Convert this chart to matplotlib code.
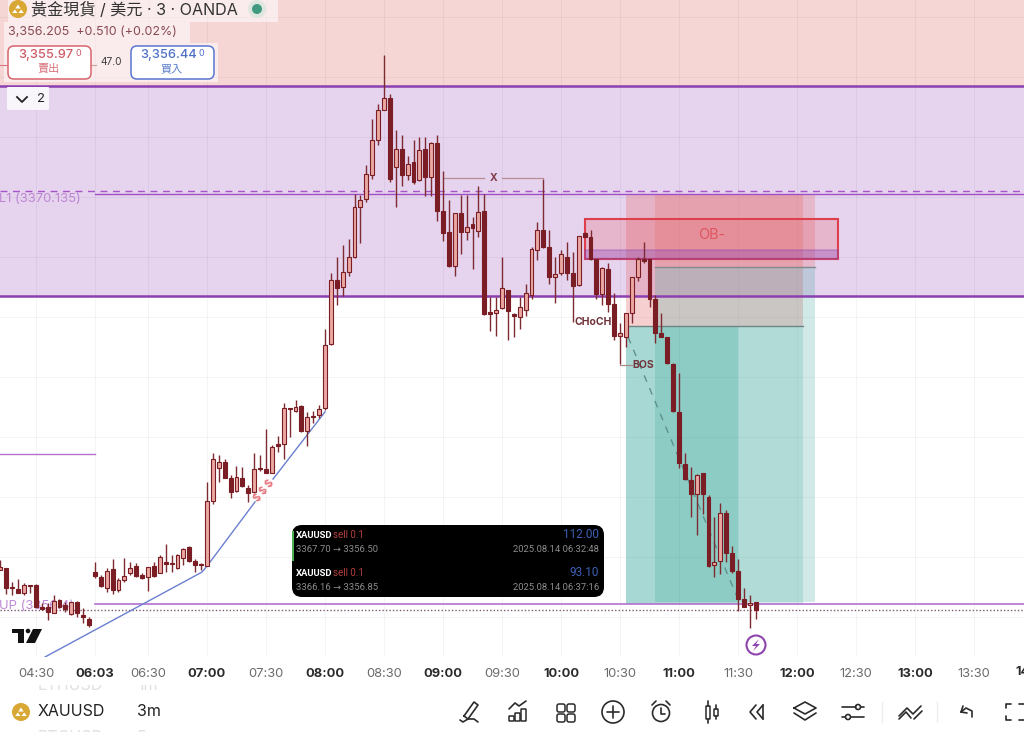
#!/usr/bin/env python3
"""XAUUSD 3m chart screenshot, redrawn with matplotlib."""

import numpy as np
import matplotlib
matplotlib.use("Agg")
import matplotlib.pyplot as plt
from matplotlib.patches import Circle, FancyBboxPatch, Polygon, Rectangle

plt.rcParams["font.family"] = ["Inter", "Noto Sans CJK TC", "DejaVu Sans"]

# candles, oldest first, bar spacing is one 3 minute slot
opens = [
    3357.50, 3357.56, 3356.95, 3356.88, 3356.73, 3357.00, 3357.00, 3356.28, 3356.26, 3356.06,
    3356.50, 3356.34, 3356.04, 3356.43, 3356.00, 3355.86, 3357.43, 3357.28, 3356.89, 3357.53,
    3356.83, 3357.17, 3357.39, 3357.64, 3357.35, 3357.28, 3357.65, 3357.41, 3357.78, 3357.73,
    3357.56, 3357.89, 3358.26, 3357.81, 3357.69, 3357.65, 3359.81, 3360.91, 3361.09, 3360.56,
    3360.15, 3360.58, 3360.23, 3360.11, 3360.89, 3360.87, 3360.75, 3361.69, 3361.69, 3362.89,
    3362.80, 3362.97, 3362.14, 3362.63, 3362.67, 3362.90, 3365.03, 3367.16, 3366.92, 3367.42,
    3367.92, 3369.61, 3369.86, 3370.66, 3371.83, 3372.83, 3373.25, 3370.92, 3371.52, 3370.66,
    3371.09, 3370.50, 3371.52, 3370.59, 3371.72, 3369.46, 3368.77, 3367.65, 3369.39, 3368.77,
    3369.02, 3368.81, 3369.46, 3366.09, 3366.07, 3366.22, 3366.83, 3366.05, 3365.94, 3366.16,
    3366.66, 3368.16, 3368.83, 3368.27, 3367.27, 3367.41, 3367.94, 3367.39, 3367.00, 3368.74,
    3368.61, 3367.86, 3366.70, 3367.52, 3366.36, 3365.31, 3365.26, 3366.08, 3367.26, 3367.86,
    3367.86, 3366.52, 3365.39, 3365.28, 3364.37, 3362.78, 3361.03, 3360.50, 3360.04, 3360.73,
    3359.95, 3357.66, 3357.80, 3359.41, 3358.06, 3357.46, 3356.53, 3356.33, 3356.43,
]
highs = [
    3357.84, 3357.56, 3357.11, 3357.20, 3357.06, 3357.00, 3357.04, 3356.39, 3356.39, 3356.67,
    3356.54, 3356.45, 3356.45, 3356.46, 3356.23, 3355.95, 3357.76, 3357.34, 3357.56, 3357.86,
    3357.23, 3357.89, 3357.78, 3357.73, 3357.39, 3357.61, 3357.78, 3358.00, 3358.36, 3358.00,
    3358.04, 3358.23, 3358.30, 3357.86, 3357.73, 3360.45, 3361.39, 3361.34, 3361.19, 3360.67,
    3360.98, 3360.95, 3360.34, 3361.41, 3361.34, 3362.20, 3361.67, 3361.97, 3363.06, 3362.89,
    3363.17, 3363.00, 3362.78, 3362.80, 3363.00, 3365.53, 3367.39, 3367.92, 3368.33, 3368.55,
    3370.03, 3370.00, 3371.00, 3372.53, 3373.05, 3374.66, 3373.36, 3372.16, 3372.00, 3371.30,
    3371.83, 3371.92, 3371.94, 3371.77, 3372.00, 3370.81, 3369.83, 3369.39, 3370.00, 3370.00,
    3369.27, 3370.30, 3370.03, 3366.61, 3366.61, 3367.94, 3366.85, 3366.07, 3366.59, 3367.03,
    3368.27, 3369.09, 3370.55, 3368.83, 3367.92, 3368.16, 3368.44, 3368.11, 3368.65, 3368.78,
    3368.83, 3367.86, 3367.59, 3367.74, 3366.72, 3365.72, 3366.06, 3367.28, 3367.92, 3368.44,
    3367.86, 3366.67, 3366.06, 3365.28, 3364.39, 3364.06, 3361.41, 3360.95, 3360.70, 3360.75,
    3360.00, 3359.28, 3359.75, 3359.50, 3358.31, 3357.86, 3356.91, 3356.67, 3356.43,
]
lows = [
    3357.50, 3356.70, 3356.67, 3356.73, 3356.67, 3356.73, 3356.26, 3356.17, 3355.84, 3356.06,
    3356.23, 3356.11, 3356.00, 3355.95, 3355.75, 3355.59, 3357.23, 3356.95, 3356.78, 3356.70,
    3356.78, 3357.11, 3357.34, 3357.26, 3357.19, 3356.80, 3357.28, 3357.39, 3357.45, 3357.45,
    3357.54, 3357.67, 3357.78, 3357.43, 3357.50, 3357.65, 3359.69, 3360.45, 3360.56, 3359.91,
    3360.11, 3360.28, 3359.78, 3360.06, 3360.81, 3360.74, 3360.73, 3361.43, 3361.19, 3361.95,
    3362.78, 3362.11, 3361.65, 3362.39, 3362.56, 3362.83, 3365.00, 3366.33, 3366.63, 3367.30,
    3367.89, 3368.41, 3369.77, 3370.55, 3371.66, 3372.83, 3370.44, 3369.61, 3370.30, 3370.50,
    3370.36, 3370.47, 3369.97, 3369.97, 3369.14, 3368.46, 3367.59, 3367.31, 3368.03, 3368.50,
    3367.53, 3368.59, 3366.00, 3365.47, 3365.31, 3366.19, 3365.16, 3365.27, 3365.55, 3365.97,
    3366.55, 3367.85, 3368.25, 3367.05, 3366.39, 3367.33, 3367.16, 3365.77, 3366.96, 3368.59,
    3367.83, 3366.53, 3366.33, 3366.11, 3365.17, 3364.36, 3364.94, 3365.72, 3367.13, 3367.74,
    3366.28, 3365.06, 3365.28, 3364.36, 3362.78, 3360.89, 3360.50, 3359.28, 3358.67, 3359.37,
    3357.61, 3357.26, 3357.37, 3357.76, 3357.39, 3356.13, 3356.26, 3355.58, 3355.86,
]
closes = [
    3357.59, 3356.89, 3356.89, 3356.75, 3357.00, 3356.98, 3356.28, 3356.21, 3356.09, 3356.48,
    3356.26, 3356.19, 3356.44, 3356.08, 3355.95, 3355.67, 3357.30, 3356.98, 3357.48, 3356.84,
    3357.17, 3357.31, 3357.57, 3357.30, 3357.25, 3357.59, 3357.31, 3357.95, 3357.69, 3357.71,
    3357.99, 3358.19, 3357.81, 3357.67, 3357.67, 3359.81, 3361.19, 3361.11, 3360.58, 3360.11,
    3360.61, 3360.30, 3360.08, 3360.88, 3360.87, 3360.74, 3361.61, 3361.65, 3362.89, 3362.86,
    3362.93, 3362.14, 3362.61, 3362.61, 3362.87, 3365.00, 3367.16, 3366.91, 3367.42, 3367.92,
    3369.61, 3369.85, 3370.69, 3371.83, 3372.85, 3373.25, 3370.52, 3371.52, 3370.67, 3371.03,
    3370.42, 3371.50, 3370.59, 3371.72, 3369.47, 3368.73, 3367.63, 3369.39, 3368.77, 3368.94,
    3368.90, 3369.45, 3366.03, 3366.05, 3366.16, 3366.91, 3366.14, 3365.96, 3366.27, 3366.75,
    3368.19, 3368.83, 3368.27, 3367.27, 3367.36, 3368.05, 3367.39, 3366.96, 3368.65, 3368.59,
    3367.86, 3366.70, 3367.56, 3366.37, 3365.30, 3365.39, 3366.06, 3367.26, 3367.86, 3367.79,
    3366.52, 3365.39, 3365.28, 3364.39, 3362.81, 3361.06, 3360.53, 3360.03, 3360.66, 3360.03,
    3357.65, 3357.78, 3359.39, 3358.06, 3357.47, 3356.53, 3356.28, 3356.41, 3356.17,
]

time_pos = [6, 16, 25, 35, 45, 55, 65, 75, 85, 95, 105, 115, 125, 135, 145, 155, 165]
time_labels = ["04:30", "06:03", "06:30", "07:00", "07:30", "08:00", "08:30", "09:00", "09:30",
               "10:00", "10:30", "11:00", "11:30", "12:00", "12:30", "13:00", "13:30"]
time_bold = ["06:03", "07:00", "08:00", "09:00", "10:00", "11:00", "12:00", "13:00"]
price_grid = [3375.93, 3373.93, 3371.93, 3369.93, 3367.93, 3365.93, 3363.93,
              3361.93, 3359.93, 3357.93, 3355.93]

zone_top = 3373.63
zone_bottom = 3366.63
l1_level = 3370.135
l1_line = 3370.03
lower_line = 3356.37
last_price = 3356.17
old_line = 3361.37

# trend line under the rally, broken around the $$$ tag
trend_x = [7.54, 34.15, 35.0, 43.14]
trend_y = [3354.6, 3357.43, 3357.63, 3359.77]
trend2_x = [46.19, 55.0]
trend2_y = [3360.53, 3362.77]

CANDLE_DARK = "#7a1d24"
CANDLE_LIGHT = "#eba8a2"
PURPLE = "#8c3fb0"
TEAL = "#2fa396"
RED = "#e57373"

W, H = 1024, 732
CHART_H = 657
fig = plt.figure(figsize=(W / 100, H / 100), dpi=100, facecolor="white")
ax = fig.add_axes([0, (H - CHART_H) / H, 1, CHART_H / H])
px_per_bar = 5.9
ax.set_xlim(35 - 207 / px_per_bar, 35 + (W - 207) / px_per_bar)
ax.set_ylim(3376.5 - CHART_H / 30, 3376.5)
for s in ax.spines.values():
    s.set_visible(False)

# zones
ax.axhspan(zone_top, 3376.5, color="#f5d6d5", lw=0, zorder=0)
ax.axhspan(zone_bottom, zone_top, color="#e6d3ee", lw=0, zorder=0)
ax.set_xticks(time_pos)
ax.set_xticklabels(time_labels, fontsize=9.3, color="#6b6b6b")
for lab in ax.get_xticklabels():
    if lab.get_text() in time_bold:
        lab.set_fontweight("bold")
        lab.set_color("#2a2a2a")
ax.set_yticks(price_grid)
ax.tick_params(left=False, labelleft=False, bottom=False, pad=4.5)
ax.grid(True, color="#000000", alpha=0.045, lw=0.7, zorder=0.5)
ax.set_axisbelow(True)

# position tools
ax.add_patch(Rectangle((106, 3365.63), 30, 4.37, fc=RED, alpha=0.33, lw=0, zorder=1))
ax.add_patch(Rectangle((111, 3367.6), 27, 2.4, fc=RED, alpha=0.28, lw=0, zorder=1))
ax.add_patch(Rectangle((106, 3356.37), 30, 9.26, fc=TEAL, alpha=0.2, lw=0, zorder=1))
ax.add_patch(Rectangle((106, 3356.37), 19, 9.26, fc=TEAL, alpha=0.27, lw=0, zorder=1))
ax.add_patch(Rectangle((111, 3356.43), 27, 11.17, fc=TEAL, alpha=0.22, lw=0, zorder=1.1))
ax.plot([111, 138], [3367.6, 3367.6], color="#7f8a8a", lw=1, zorder=1.2)
ax.plot([106, 136], [3365.63, 3365.63], color="#6f8582", lw=1, zorder=1.2)
ax.plot([106.36, 125.34], [3365.27, 3356.37], color="#5f918b", lw=1, ls=(0, (5, 5)), zorder=1.3)

# levels
ax.axhline(zone_top, color=PURPLE, lw=1.8, zorder=2)
ax.axhline(zone_bottom, color=PURPLE, lw=1.8, zorder=2)
ax.axhline(l1_level, color="#a655c8", lw=1, ls=(0, (5, 4)), zorder=2)
ax.plot([16, 180], [l1_line, l1_line], color="#a04fc4", lw=1, zorder=2)
ax.plot([16, 180], [lower_line, lower_line], color="#b56fd0", lw=1.2, zorder=2)
ax.plot([-1, 16], [old_line, old_line], color="#b56fd0", lw=1, zorder=2)
ax.axhline(last_price, color="#7c5a72", lw=1, ls=(0, (1, 1.5)), zorder=2)
ax.text(-0.3, 3369.86, "L1 (3370.135)", fontsize=9.4, color="#bd86d4", va="center", zorder=2.2)
ax.text(-0.3, 3356.3, "UP (3356.4)", fontsize=9.4, color="#c08ad6", va="center", zorder=2)

# trend lines and structure marks
ax.plot(trend_x, trend_y, color="#6a7fcf", lw=1.0, zorder=2.5)
ax.plot(trend2_x, trend2_y, color="#6a7fcf", lw=1.0, zorder=2.5)
ax.text(44.6, 3360.15, "$ $ $", fontsize=7.5, fontweight="bold", color="#e8727a", rotation=50,
        ha="center", va="center", zorder=4, parse_math=False)
ax.plot([75, 82], [3370.57, 3370.57], color="#b98d94", lw=0.9, zorder=2.5)
ax.plot([85, 92], [3370.57, 3370.57], color="#b98d94", lw=0.9, zorder=2.5)
ax.text(83.5, 3370.57, "X", fontsize=7.5, fontweight="bold", color="#7e3b45",
        ha="center", va="center", zorder=4)
ax.text(100.4, 3365.77, "CHoCH", fontsize=7.5, fontweight="bold", color="#70343c",
        ha="center", va="center", zorder=4)
ax.plot([105, 107], [3364.33, 3364.33], color="#a58a8a", lw=0.9, zorder=2.5)
ax.text(108.9, 3364.33, "BOS", fontsize=7.5, fontweight="bold", color="#70343c",
        ha="center", va="center", zorder=4)

# order block
ax.add_patch(Rectangle((99, 3367.87), 43, 1.33, fc="#e8505a", alpha=0.22, lw=0, zorder=2.6))
ax.add_patch(Rectangle((99, 3367.87), 43, 1.33, fc="none", ec="#dd3f4c", lw=1.5, zorder=2.7))
ax.add_patch(Rectangle((99, 3367.87), 43, 0.3, fc="#7c3fc0", alpha=0.3, ec=PURPLE, lw=1.3, zorder=2.8))
ax.text(120.6, 3368.67, "OB-", fontsize=10.5, color="#e0565f", ha="center", va="center", zorder=2.8)

# candles
x = np.arange(len(opens))
o, h, l, c = map(np.array, (opens, highs, lows, closes))
up = c >= o
ax.vlines(x, l, h, color="#7d2a30", lw=1.0, zorder=3)
ax.bar(x, np.abs(c - o), bottom=np.minimum(o, c), width=0.66,
       color=np.where(up, CANDLE_LIGHT, CANDLE_DARK), edgecolor=CANDLE_DARK, lw=0.8, zorder=3.1)

# everything that is phone UI, in screen pixels
ui = fig.add_axes([0, 0, 1, 1], facecolor="none")
ui.set_xlim(0, W)
ui.set_ylim(H, 0)
ui.axis("off")

NARROW = ["Roboto", "DejaVu Sans"]


def box(x0, y0, x1, y1, fc="white", ec="none", lw=1, r=4, alpha=1.0, z=5):
    ui.add_patch(FancyBboxPatch((x0 + r, y0 + r), x1 - x0 - 2 * r, y1 - y0 - 2 * r,
                                boxstyle=f"round,pad={r},rounding_size={r}",
                                fc=fc, ec=ec, lw=lw, alpha=alpha, zorder=z))


def coin(cx, cy, r):
    ui.add_patch(Circle((cx, cy), r, fc="#d8a734", ec="none", zorder=6))
    ui.add_patch(Polygon([(cx - r * 0.3, cy - r * 0.05), (cx, cy - r * 0.5), (cx + r * 0.3, cy - r * 0.05)],
                         fc="white", zorder=7))
    ui.add_patch(Polygon([(cx - r * 0.65, cy + r * 0.45), (cx - r * 0.35, cy + r * 0.05), (cx - r * 0.05, cy + r * 0.45)],
                         fc="white", zorder=7))
    ui.add_patch(Polygon([(cx + r * 0.05, cy + r * 0.45), (cx + r * 0.35, cy + r * 0.05), (cx + r * 0.65, cy + r * 0.45)],
                         fc="white", zorder=7))


# header panel
box(8, 0, 278, 22, fc="white", alpha=0.55, r=1)
box(4, 22, 190, 43, fc="white", alpha=0.55, r=1)
box(4, 43, 218, 82, fc="white", alpha=0.55, r=1)
coin(18, 9, 9)
ui.text(31, 10, "黃金現貨 / 美元 · 3 · OANDA", fontsize=11.6, color="#333333", va="center", zorder=7)
ui.add_patch(Circle((257, 9), 9, fc="#dfe6e0", ec="none", zorder=6))
ui.add_patch(Circle((257, 9), 5, fc="#3f9a80", ec="none", zorder=7))
ui.text(8, 32, "3,356.205  +0.510 (+0.02%)", fontsize=9, color="#8a4a52", va="center", zorder=7)

box(8, 46, 91, 79, fc="white", ec="#d8656d", lw=1.1, r=6, z=6)
ui.text(46, 55, "3,355.97", fontsize=9.2, fontweight="medium", color="#cf5b66", ha="center", va="center", zorder=7)
ui.text(78, 54, "0", fontsize=6.5, color="#cf5b66", ha="center", va="center", zorder=7)
ui.text(49, 69, "賣出", fontsize=8, color="#d9737c", ha="center", va="center", zorder=7)
ui.plot([0, 8], [65, 65], color="#d9737c", lw=0.8, zorder=5.5)
ui.plot([91, 96], [65, 65], color="#c9a0a0", lw=0.8, zorder=5.5)
ui.text(111, 62, "47.0", fontsize=7.3, color="#3c3c3c", ha="center", va="center", zorder=7)
box(131, 46, 214, 79, fc="white", ec="#5a74d0", lw=1.1, r=6, z=6)
ui.text(169, 55, "3,356.44", fontsize=9.2, fontweight="medium", color="#4f70c8", ha="center", va="center", zorder=7)
ui.text(201, 54, "0", fontsize=6.5, color="#4f70c8", ha="center", va="center", zorder=7)
ui.text(172, 69, "買入", fontsize=8, color="#5f80cc", ha="center", va="center", zorder=7)

box(7, 87, 49, 110, fc="#f8f6fa", r=1)
ui.plot([17, 22, 27], [97, 102, 97], color="#222222", lw=1.3, zorder=7)
ui.text(41, 99, "2", fontsize=9.5, color="#222222", ha="center", va="center", zorder=7)

# trade list
box(292, 525, 604, 597, fc="black", r=10)
ui.add_patch(Rectangle((292, 531), 2, 30, fc="#4caf50", lw=0, zorder=6))
for y0, entry, amount, stamp in [(535, "3367.70 → 3356.50", "112.00", "2025.08.14 06:32:48"),
                                 (573, "3366.16 → 3356.85", "93.10", "2025.08.14 06:37:16")]:
    ui.text(296, y0, "XAUUSD", family=NARROW, fontsize=6.8, fontweight="bold", color="white",
            va="center", zorder=7)
    ui.text(333, y0, "sell 0.1", family=NARROW, fontsize=7, color="#b5403f", va="center", zorder=7)
    ui.text(599, y0, amount, family=NARROW, fontsize=8.4, color="#3f62b8", ha="right", va="center", zorder=7)
    ui.text(296, y0 + 15, entry, family=NARROW, fontsize=6.8, color="#8c8c8c", va="center", zorder=7)
    ui.text(599, y0 + 15, stamp, family=NARROW, fontsize=6.8, color="#8c8c8c", ha="right", va="center", zorder=7)

# TradingView mark
ui.add_patch(Polygon([(12, 629), (23.5, 629), (23.5, 643), (18, 643), (18, 633), (12, 633)], fc="#111111", zorder=6))
ui.add_patch(Circle((28, 631), 2.3, fc="#111111", zorder=6))
ui.add_patch(Polygon([(26, 643), (33, 629), (42, 629), (35, 643)], fc="#111111", zorder=6))

# lightning marker
ui.add_patch(Circle((756, 645), 9.5, fc="none", ec="#8e44ad", lw=1.5, zorder=6))
ui.add_patch(Polygon([(759, 639), (752, 646), (756, 646), (753, 651), (760, 644), (756, 644)], fc="#8e44ad", zorder=6))

# clipped time label past the right edge
ui.text(1033, 672, "14:00", fontsize=9.3, fontweight="bold", color="#2a2a2a", ha="center", va="center", zorder=7)

# bottom bar, with the neighbouring list rows cut off by the panel
ui.add_patch(Rectangle((0, 685), W, 47, fc="white", lw=0, zorder=4))
panel_clip = Rectangle((0, 685), W, 47, transform=ui.transData)
for label, lx, ly in [("ETHUSD", 38, 686), ("1m", 137, 686), ("BTCUSD", 38, 737), ("5m", 137, 737)]:
    t = ui.text(lx, ly, label, fontsize=11.5, color="#e0e0e0", va="center", zorder=5)
    t.set_clip_path(panel_clip)
    t.set_clip_on(True)
coin(21, 712, 9)
ui.text(38, 712, "XAUUSD", fontsize=11.5, color="#222222", va="center", zorder=7)
ui.text(137, 712, "3m", fontsize=11.5, color="#222222", va="center", zorder=7)

INK = "#2b2b2b"


def stroke(xs, ys, lw=1.2):
    ui.plot(xs, ys, color=INK, lw=lw, solid_capstyle="round", zorder=7)


def ring(cx, cy, r, lw=1.2, fc="none"):
    ui.add_patch(Circle((cx, cy), r, fc=fc, ec=INK, lw=lw, zorder=7))


def square(x0, y0, w, h, r=1.5, fc="none"):
    ui.add_patch(FancyBboxPatch((x0 + r, y0 + r), w - 2 * r, h - 2 * r,
                                boxstyle=f"round,pad={r},rounding_size={r}",
                                fc=fc, ec=INK, lw=1.1, zorder=7))


# pencil
stroke([464, 474, 478, 468, 464], [716, 702, 705, 719, 716])
stroke([460, 463, 468, 474, 478], [720, 722, 719, 719, 722])
# indicators
for bx, bh in [(509, 5), (515, 8), (521, 12)]:
    square(bx, 721 - bh, 5, bh, r=0.5)
stroke([509, 515, 519, 526], [709, 703, 706, 701])
# grid
for gx in (557, 567):
    for gy in (704, 714):
        square(gx, gy, 8, 8, r=2)
# plus
ring(613, 712, 11)
stroke([607, 619], [712, 712])
stroke([613, 613], [706, 718])
# alarm
ring(661, 713, 8.5)
stroke([661, 661, 665], [708, 714, 714])
stroke([652, 656], [705, 701])
stroke([670, 666], [705, 701])
# candle type
square(706, 706, 4, 13, r=0.5)
stroke([708, 708], [701, 706])
stroke([708, 708], [719, 723])
square(714, 709, 4, 7, r=0.5)
stroke([716, 716], [705, 709])
stroke([716, 716], [716, 719])
# rewind
stroke([756, 750, 756], [705, 712, 719])
stroke([763, 757, 763], [705, 712, 719])
stroke([763, 763], [705, 719])
# layers
stroke([794, 805, 816, 805, 794], [708, 702, 708, 714, 708])
stroke([794, 805, 816], [713, 720, 713])
# sliders
stroke([842, 856], [707, 707])
ring(858, 707, 2.5)
stroke([861, 864], [707, 707])
stroke([842, 845], [717, 717])
ring(848, 717, 2.5)
stroke([851, 864], [717, 717])
# divider
ui.plot([882, 882], [702, 722], color="#eeeeee", lw=1, zorder=7)
# trade arrows
stroke([899, 907, 913, 921], [716, 708, 714, 706])
stroke([899, 906, 911], [719, 712, 718])
stroke([914, 922], [719, 711])
ui.plot([937, 937], [702, 722], color="#eeeeee", lw=1, zorder=7)
# undo
stroke([961, 966, 972, 972], [712, 708, 711, 717])
stroke([961, 967], [712, 713])
stroke([961, 963], [712, 706])
# fullscreen corners
stroke([1006, 1006, 1011], [708, 704, 704])
stroke([1019, 1024], [704, 704])
stroke([1006, 1006, 1011], [716, 720, 720])
stroke([1019, 1024], [720, 720])

fig.savefig("out.png", dpi=100, facecolor="white")
plt.close(fig)
